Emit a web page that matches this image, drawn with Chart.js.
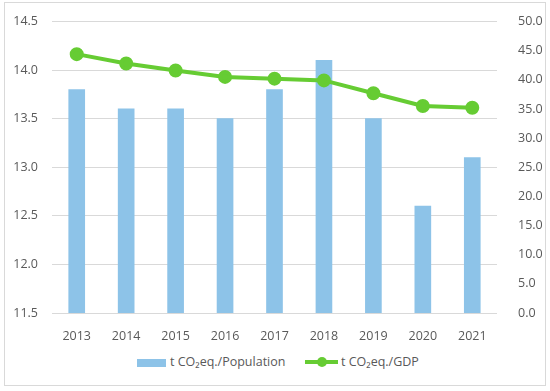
<!DOCTYPE html>
<html>
<head>
<meta charset="utf-8">
<script src="https://cdn.jsdelivr.net/npm/chart.js@4"></script>
<style>
    body { margin: 0; background: #fff; width: 550px; height: 391px; overflow: hidden; font-family: "Open Sans", sans-serif; }
    #frame { position: absolute; left: 4px; top: 2px; width: 540px; height: 382px; border: 1px solid #d9d9d9; }
    #wrap { position: absolute; left: 0; top: 0; width: 550px; height: 345px; }
    #legend { position: absolute; top: 353px; left: 0; width: 550px; height: 18px; font-size: 12.5px; color: #595959; }
    .item { position: absolute; top: 0; height: 18px; line-height: 18px; white-space: nowrap; }
    .box { position: absolute; left: 0; top: 6px; width: 29px; height: 8px; background: #8DC3E8; }
    .ln { position: absolute; left: 0; top: 7px; width: 33px; height: 4px; background: #66CC33; }
    .dot { position: absolute; left: 12px; top: 4px; width: 10px; height: 10px; border-radius: 50%; background: #66CC33; }
</style>
</head>
<body>
<div id="frame"></div>
<div id="wrap"><canvas id="chart"></canvas></div>
<div id="legend">
    <div class="item" style="left:137px"><span class="box"></span><span style="margin-left:33px">t CO₂eq./Population</span></div>
    <div class="item" style="left:305px"><span class="ln"></span><span class="dot"></span><span style="margin-left:36px">t CO₂eq./GDP</span></div>
</div>
<script>
    // Datos
    const years = ['2013', '2014', '2015', '2016', '2017', '2018', '2019', '2020', '2021'];
    const perPopulation = [13.8, 13.6, 13.6, 13.5, 13.8, 14.1, 13.5, 12.6, 13.1];
    const perGDP = [44.4, 42.8, 41.6, 40.5, 40.2, 39.9, 37.7, 35.5, 35.2];

    const textColor = '#595959';
    const gridColor = '#d9d9d9';
    const font = { family: 'Open Sans', size: 12.5 };

    new Chart(document.getElementById('chart').getContext('2d'), {
        data: {
            labels: years,
            datasets: [
                {
                    type: 'line',
                    label: 't CO₂eq./GDP',
                    data: perGDP,
                    yAxisID: 'y2',
                    borderColor: '#66CC33',
                    backgroundColor: '#66CC33',
                    borderWidth: 4,
                    pointRadius: 5,
                    pointHoverRadius: 5,
                    tension: 0,
                    order: 0
                },
                {
                    type: 'bar',
                    label: 't CO₂eq./Population',
                    data: perPopulation,
                    yAxisID: 'y',
                    backgroundColor: '#8DC3E8',
                    barThickness: 16,
                    order: 1
                }
            ]
        },
        options: {
            responsive: true,
            maintainAspectRatio: false,
            animation: false,
            layout: { padding: { top: 19, left: 0, right: 0, bottom: 0 } },
            plugins: { legend: { display: false }, tooltip: { enabled: false } },
            scales: {
                x: {
                    grid: { display: false },
                    border: { display: false },
                    ticks: { color: textColor, font: font, padding: 8, maxRotation: 0 },
                    afterFit: (s) => { s.height = 32; }
                },
                y: {
                    position: 'left',
                    min: 11.5,
                    max: 14.5,
                    grid: { color: gridColor, drawTicks: false },
                    border: { display: false },
                    ticks: { stepSize: 0.5, color: textColor, font: font, padding: 14, callback: v => v.toFixed(1) },
                    afterFit: (s) => { s.width = 52; }
                },
                y2: {
                    position: 'right',
                    min: 0,
                    max: 50,
                    grid: { display: false },
                    border: { display: false },
                    ticks: { stepSize: 5, color: textColor, font: font, padding: 13, callback: v => v.toFixed(1) },
                    afterFit: (s) => { s.width = 53; }
                }
            }
        }
    });
</script>
</body>
</html>
